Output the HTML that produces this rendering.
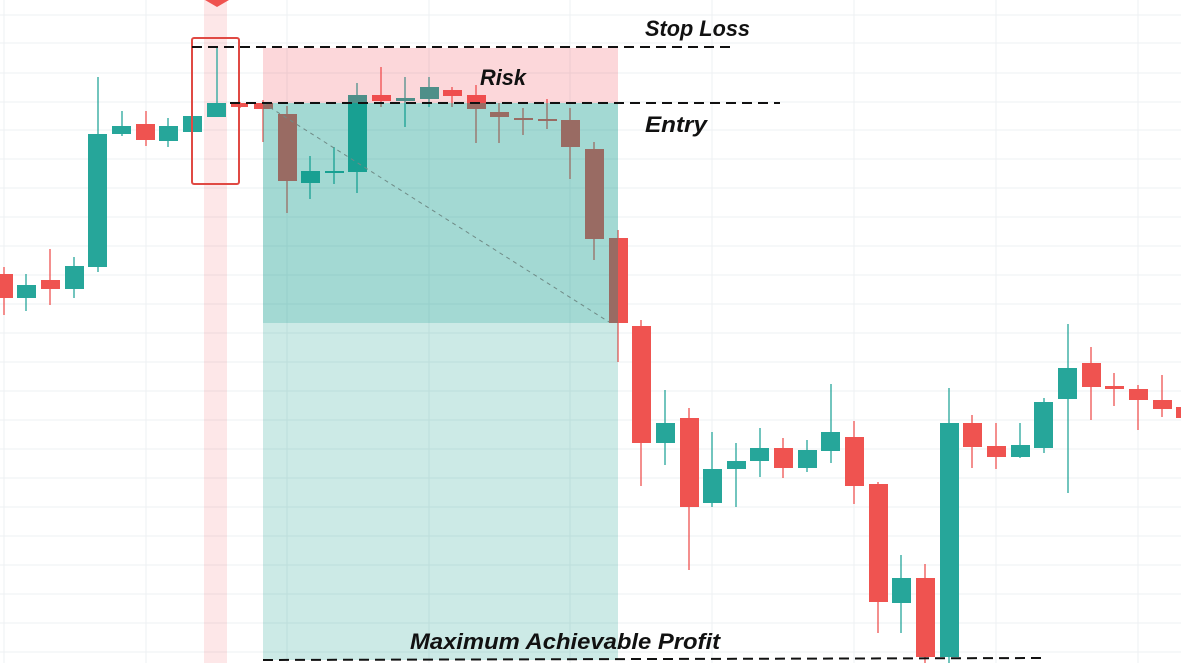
<!DOCTYPE html>
<html><head><meta charset="utf-8"><style>
html,body{margin:0;padding:0;background:#fff;width:1181px;height:663px;overflow:hidden}
text{font-family:"Liberation Sans",sans-serif;font-style:italic;font-weight:bold;font-size:22px;fill:#111}
</style></head><body>
<svg width="1181" height="663" viewBox="0 0 1181 663" xmlns="http://www.w3.org/2000/svg">
<g stroke="#edf0f3" stroke-width="1">
<line x1="0" x2="1181" y1="15" y2="15"/><line x1="0" x2="1181" y1="43" y2="43"/><line x1="0" x2="1181" y1="73" y2="73"/><line x1="0" x2="1181" y1="102" y2="102"/><line x1="0" x2="1181" y1="130" y2="130"/><line x1="0" x2="1181" y1="159" y2="159"/><line x1="0" x2="1181" y1="188" y2="188"/><line x1="0" x2="1181" y1="217" y2="217"/><line x1="0" x2="1181" y1="246" y2="246"/><line x1="0" x2="1181" y1="275" y2="275"/><line x1="0" x2="1181" y1="304" y2="304"/><line x1="0" x2="1181" y1="333" y2="333"/><line x1="0" x2="1181" y1="362" y2="362"/><line x1="0" x2="1181" y1="391" y2="391"/><line x1="0" x2="1181" y1="420" y2="420"/><line x1="0" x2="1181" y1="449" y2="449"/><line x1="0" x2="1181" y1="478" y2="478"/><line x1="0" x2="1181" y1="507" y2="507"/><line x1="0" x2="1181" y1="536" y2="536"/><line x1="0" x2="1181" y1="565" y2="565"/><line x1="0" x2="1181" y1="594" y2="594"/><line x1="0" x2="1181" y1="623" y2="623"/><line x1="0" x2="1181" y1="652" y2="652"/>
<line y1="0" y2="663" x1="4" x2="4"/><line y1="0" y2="663" x1="146" x2="146"/><line y1="0" y2="663" x1="287" x2="287"/><line y1="0" y2="663" x1="429" x2="429"/><line y1="0" y2="663" x1="570" x2="570"/><line y1="0" y2="663" x1="712" x2="712"/><line y1="0" y2="663" x1="854" x2="854"/><line y1="0" y2="663" x1="996" x2="996"/><line y1="0" y2="663" x1="1138" x2="1138"/>
</g>
<rect x="204" y="0" width="23" height="663" fill="rgba(242,54,69,0.12)"/>
<g stroke-width="1.3">
<g fill="#ef5350" stroke="#ef5350">
<line x1="4" x2="4" y1="267" y2="315"/><rect x="-5" y="274" width="18" height="24" stroke="none"/>
<line x1="50" x2="50" y1="249" y2="305"/><rect x="41" y="280" width="19" height="9" stroke="none"/>
<line x1="146" x2="146" y1="111" y2="146"/><rect x="136" y="124" width="19" height="16" stroke="none"/>
<line x1="240" x2="240" y1="102" y2="108"/><rect x="231" y="103" width="17" height="4" stroke="none"/>
<line x1="263" x2="263" y1="100" y2="142"/><rect x="254" y="103" width="19" height="6" stroke="none"/>
<line x1="287" x2="287" y1="106" y2="213"/><rect x="278" y="114" width="19" height="67" stroke="none"/>
<line x1="381" x2="381" y1="67" y2="107"/><rect x="372" y="95" width="19" height="6" stroke="none"/>
<line x1="452" x2="452" y1="87" y2="107"/><rect x="443" y="90" width="19" height="6" stroke="none"/>
<line x1="476" x2="476" y1="85" y2="143"/><rect x="467" y="95" width="19" height="14" stroke="none"/>
<line x1="499" x2="499" y1="103" y2="143"/><rect x="490" y="112" width="19" height="5" stroke="none"/>
<line x1="523" x2="523" y1="108" y2="135"/><rect x="514" y="118" width="19" height="2" stroke="none"/>
<line x1="547" x2="547" y1="99" y2="129"/><rect x="538" y="119" width="19" height="2" stroke="none"/>
<line x1="570" x2="570" y1="108" y2="179"/><rect x="561" y="120" width="19" height="27" stroke="none"/>
<line x1="594" x2="594" y1="142" y2="260"/><rect x="585" y="149" width="19" height="90" stroke="none"/>
<line x1="618" x2="618" y1="230" y2="362"/><rect x="609" y="238" width="19" height="85" stroke="none"/>
<line x1="641" x2="641" y1="320" y2="486"/><rect x="632" y="326" width="19" height="117" stroke="none"/>
<line x1="689" x2="689" y1="408" y2="570"/><rect x="680" y="418" width="19" height="89" stroke="none"/>
<line x1="783" x2="783" y1="438" y2="478"/><rect x="774" y="448" width="19" height="20" stroke="none"/>
<line x1="854" x2="854" y1="421" y2="504"/><rect x="845" y="437" width="19" height="49" stroke="none"/>
<line x1="878" x2="878" y1="482" y2="633"/><rect x="869" y="484" width="19" height="118" stroke="none"/>
<line x1="925" x2="925" y1="564" y2="663"/><rect x="916" y="578" width="19" height="79" stroke="none"/>
<line x1="972" x2="972" y1="415" y2="468"/><rect x="963" y="423" width="19" height="24" stroke="none"/>
<line x1="996" x2="996" y1="423" y2="469"/><rect x="987" y="446" width="19" height="11" stroke="none"/>
<line x1="1091" x2="1091" y1="347" y2="420"/><rect x="1082" y="363" width="19" height="24" stroke="none"/>
<line x1="1114" x2="1114" y1="373" y2="406"/><rect x="1105" y="386" width="19" height="3" stroke="none"/>
<line x1="1138" x2="1138" y1="385" y2="430"/><rect x="1129" y="389" width="19" height="11" stroke="none"/>
<line x1="1162" x2="1162" y1="375" y2="417"/><rect x="1153" y="400" width="19" height="9" stroke="none"/>
<rect x="1176" y="407" width="19" height="11" stroke="none"/>
</g>
<g fill="#26a69a" stroke="#26a69a">
<line x1="26" x2="26" y1="274" y2="311"/><rect x="17" y="285" width="19" height="13" stroke="none"/>
<line x1="74" x2="74" y1="257" y2="298"/><rect x="65" y="266" width="19" height="23" stroke="none"/>
<line x1="98" x2="98" y1="77" y2="272"/><rect x="88" y="134" width="19" height="133" stroke="none"/>
<line x1="122" x2="122" y1="111" y2="136"/><rect x="112" y="126" width="19" height="8" stroke="none"/>
<line x1="168" x2="168" y1="118" y2="147"/><rect x="159" y="126" width="19" height="15" stroke="none"/>
<rect x="183" y="116" width="19" height="16" stroke="none"/>
<line x1="217" x2="217" y1="48" y2="117"/><rect x="207" y="103" width="19" height="14" stroke="none"/>
<line x1="310" x2="310" y1="156" y2="199"/><rect x="301" y="171" width="19" height="12" stroke="none"/>
<line x1="334" x2="334" y1="147" y2="184"/><rect x="325" y="171" width="19" height="2" stroke="none"/>
<line x1="357" x2="357" y1="83" y2="193"/><rect x="348" y="95" width="19" height="77" stroke="none"/>
<line x1="405" x2="405" y1="77" y2="127"/><rect x="396" y="98" width="19" height="3" stroke="none"/>
<line x1="429" x2="429" y1="77" y2="107"/><rect x="420" y="87" width="19" height="12" stroke="none"/>
<line x1="665" x2="665" y1="390" y2="465"/><rect x="656" y="423" width="19" height="20" stroke="none"/>
<line x1="712" x2="712" y1="432" y2="507"/><rect x="703" y="469" width="19" height="34" stroke="none"/>
<line x1="736" x2="736" y1="443" y2="507"/><rect x="727" y="461" width="19" height="8" stroke="none"/>
<line x1="760" x2="760" y1="428" y2="477"/><rect x="750" y="448" width="19" height="13" stroke="none"/>
<line x1="807" x2="807" y1="440" y2="472"/><rect x="798" y="450" width="19" height="18" stroke="none"/>
<line x1="831" x2="831" y1="384" y2="463"/><rect x="821" y="432" width="19" height="19" stroke="none"/>
<line x1="901" x2="901" y1="555" y2="633"/><rect x="892" y="578" width="19" height="25" stroke="none"/>
<line x1="949" x2="949" y1="388" y2="663"/><rect x="940" y="423" width="19" height="234" stroke="none"/>
<line x1="1020" x2="1020" y1="423" y2="458"/><rect x="1011" y="445" width="19" height="12" stroke="none"/>
<line x1="1044" x2="1044" y1="398" y2="453"/><rect x="1034" y="402" width="19" height="46" stroke="none"/>
<line x1="1068" x2="1068" y1="324" y2="493"/><rect x="1058" y="368" width="19" height="31" stroke="none"/>
</g>
</g>
<rect x="263" y="48" width="355" height="55" fill="rgba(242,54,69,0.2)"/>
<rect x="263" y="103" width="355" height="220" fill="rgba(0,151,134,0.36)"/>
<rect x="263" y="323" width="355" height="337" fill="rgba(0,150,130,0.2)"/>
<rect x="192" y="38" width="47" height="146" rx="2" fill="none" stroke="#e04a44" stroke-width="2"/>
<polygon points="205,0 229,0 217,7" fill="#ef5350"/>
<line x1="263" y1="103" x2="609" y2="322" stroke="#6f8a86" stroke-width="1" stroke-dasharray="4,4"/>
<g stroke="#111" stroke-width="2" stroke-dasharray="10,6">
<line x1="192" x2="730" y1="47" y2="47"/>
<line x1="230" x2="780" y1="103" y2="103"/>
<line x1="263" x2="1045" y1="660" y2="658"/>
</g>
<text x="645" y="36" textLength="105" lengthAdjust="spacingAndGlyphs">Stop Loss</text>
<text x="480" y="85" textLength="46" lengthAdjust="spacingAndGlyphs">Risk</text>
<text x="645" y="132" textLength="62" lengthAdjust="spacingAndGlyphs">Entry</text>
<text x="410" y="649" textLength="310" lengthAdjust="spacingAndGlyphs">Maximum Achievable Profit</text>
</svg>
</body></html>
